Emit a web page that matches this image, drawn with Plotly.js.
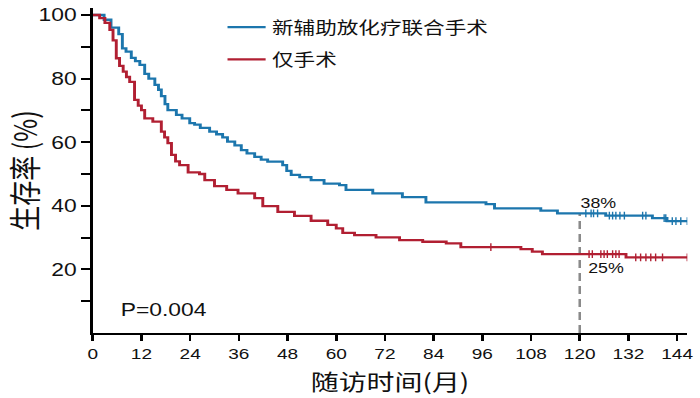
<!DOCTYPE html>
<html>
<head>
<meta charset="utf-8">
<script src="https://cdn.plot.ly/plotly-3.0.1.min.js"></script>
<style>
  html, body { margin: 0; padding: 0; overflow: hidden; background: #fff; }
  #wrap { width: 700px; height: 398px; overflow: hidden; }
  #chart { width: 551px; height: 398px; transform: scaleX(1.2704); transform-origin: 0 0; }
</style>
</head>
<body>
<div id="wrap"><div id="chart"></div></div>
<script>
// ---- data ----
const seriesNames = ['新辅助放化疗联合手术', '仅手术'];

const blueT = [0, 2.8, 4.5, 6.4, 7.3, 8.2, 9.5, 10.5, 11.6, 12.8, 13.8, 15.3, 16.2, 16.9, 17.8, 18.5, 20.6, 22.0, 23.9, 25.1, 26.5, 28.8, 30.5, 32.0, 33.2, 35.0, 36.6, 38.0, 39.9, 41.5, 43.1, 46.8, 47.8, 48.9, 51.0, 53.8, 57.0, 60.8, 62.4, 69.0, 76.3, 82.1, 96.9, 99.0, 110.4, 114.5, 126.4, 137.9, 141.5, 146.5];
const blueS = [100, 98.5, 96, 94, 89.5, 88.5, 86.5, 85.5, 84.3, 81.5, 80, 78, 76.5, 74.5, 72, 70.1, 68.6, 67.5, 66, 65.5, 64.5, 63.3, 62.5, 61.5, 60.2, 59, 57.5, 56.5, 55.4, 54.5, 53.9, 52.8, 51, 49.7, 49, 48.1, 47, 46.5, 45, 43.9, 42.7, 41.1, 40.5, 39.2, 38.5, 37.6, 36.9, 36.1, 35.2, 35.2];

const redT = [0, 1.7, 3.0, 4.2, 5.0, 5.8, 6.6, 7.5, 8.3, 9.1, 10.3, 11.2, 12.0, 12.8, 14.8, 16.9, 17.7, 18.5, 19.4, 20.4, 21.4, 23.5, 26.3, 27.6, 30.0, 33.0, 35.8, 39.9, 41.9, 45.6, 49.7, 53.8, 57.9, 60.0, 61.6, 64.5, 69.8, 75.6, 81.3, 87.1, 90.7, 105.5, 108.3, 110.8, 131.4, 146.5];
const redS = [100, 99, 97.5, 95.3, 92, 86.4, 84, 82.2, 80.5, 79, 73.3, 71.5, 70.1, 67.5, 66.5, 63.3, 61.5, 59.7, 56, 54, 52.8, 50.5, 50, 48.1, 46.2, 45, 43.9, 42.4, 39.9, 38.1, 36.8, 35.3, 34, 32.9, 31.5, 30.8, 30.1, 29.2, 28.7, 28.2, 27, 26.4, 25.6, 24.8, 23.8, 23.8];

const blueCensorT = [121.5, 122.8, 123.4, 124.4, 127.3, 128.1, 128.9, 129.9, 131.0, 135.5, 136.3, 140.8, 141.2, 142.8, 143.7, 144.9, 146.5];
const redCensorT = [98.1, 122.3, 123.1, 125.2, 126.0, 126.8, 128.1, 128.9, 129.7, 133.8, 135.0, 136.3, 137.5, 138.7, 140.4, 146.5];

const markTime = 120;
const markLabels = ['38%', '25%'];
const pLabel = 'P=0.004';

const xTickVals = [0, 12, 24, 36, 48, 60, 72, 84, 96, 108, 120, 132, 144];
const yTickVals = [10, 20, 30, 40, 50, 60, 70, 80, 90, 100];
const yTickText = ['', '20', '', '40', '', '60', '', '80', '', '100'];

const xTitle = '随访时间(月)';
const yTitle = '生存率 (%)';

// ---- helpers ----
function stepAt(T, S, t) {
  let v = S[0];
  for (let i = 0; i < T.length; i++) { if (T[i] <= t) v = S[i]; }
  return v;
}

const BLUE = '#1c76ad';
const RED = '#b11f32';
const FONT = 'Liberation Sans, Arial, Noto Sans CJK SC, sans-serif';
const CJK = 'Noto Sans CJK SC, Liberation Sans, sans-serif';

const blueAtMark = stepAt(blueT, blueS, markTime);
const redAtMark = stepAt(redT, redS, markTime);

const traces = [
  {
    x: [markTime, markTime], y: [0, blueAtMark],
    mode: 'lines', line: { color: '#8a8a8a', width: 2, dash: '8px,5px' },
    showlegend: false, hoverinfo: 'skip'
  },
  {
    x: blueT, y: blueS, name: seriesNames[0], legendgroup: 'a',
    mode: 'lines', line: { color: BLUE, width: 2.3, shape: 'hv' }
  },
  {
    x: redT, y: redS, name: seriesNames[1], legendgroup: 'b',
    mode: 'lines', line: { color: RED, width: 2.3, shape: 'hv' }
  },
  {
    x: blueCensorT, y: blueCensorT.map(t => stepAt(blueT, blueS, t)),
    mode: 'markers', legendgroup: 'a', showlegend: false,
    marker: { symbol: 'line-ns', size: 5.5, line: { color: BLUE, width: 1.1 } }
  },
  {
    x: redCensorT, y: redCensorT.map(t => stepAt(redT, redS, t)),
    mode: 'markers', legendgroup: 'b', showlegend: false,
    marker: { symbol: 'line-ns', size: 5.5, line: { color: RED, width: 1.1 } }
  }
];

const layout = {
  width: 551, height: 398,
  margin: { l: 73, r: 9.6, t: 8, b: 65 },
  paper_bgcolor: '#fff', plot_bgcolor: '#fff',
  showlegend: true,
  legend: {
    x: 0.216, y: 0.995, xanchor: 'left', yanchor: 'top',
    font: { family: CJK, size: 17, color: '#111' },
    tracegroupgap: 7, bgcolor: 'rgba(0,0,0,0)'
  },
  xaxis: {
    range: [0, 146.5], tickvals: xTickVals, ticktext: xTickVals.map(String),
    showgrid: false, zeroline: false,
    showline: true, linecolor: '#000', linewidth: 2,
    ticks: 'outside', ticklen: 6, tickwidth: 2, tickcolor: '#000',
    tickfont: { family: FONT, size: 15, color: '#111' },
    title: { text: xTitle, font: { family: CJK, size: 22, color: '#111' }, standoff: 14 }
  },
  yaxis: {
    range: [0, 102.2], tickvals: yTickVals, ticktext: yTickText,
    showgrid: false, zeroline: false,
    showline: true, linecolor: '#000', linewidth: 2,
    ticks: 'outside', ticklen: 7, tickwidth: 2, tickcolor: '#000',
    tickfont: { family: FONT, size: 18, color: '#111' },
    title: { text: yTitle, font: { family: CJK, size: 25, color: '#111' }, standoff: 4 }
  },
  annotations: [
    { x: markTime - 0.3, y: blueAtMark + 3.3, xref: 'x', yref: 'y', text: markLabels[0], showarrow: false,
      xanchor: 'left', yanchor: 'middle', font: { family: FONT, size: 14, color: '#111' } },
    { x: markTime + 1.5, y: redAtMark - 4.4, xref: 'x', yref: 'y', text: markLabels[1], showarrow: false,
      xanchor: 'left', yanchor: 'middle', font: { family: FONT, size: 14, color: '#111' } },
    { x: 6.4, y: 7.2, xref: 'x', yref: 'y', text: pLabel, showarrow: false,
      xanchor: 'left', yanchor: 'middle', font: { family: FONT, size: 18, color: '#111' } }
  ]
};

Plotly.newPlot('chart', traces, layout, { displayModeBar: false, staticPlot: true });
</script>
</body>
</html>
